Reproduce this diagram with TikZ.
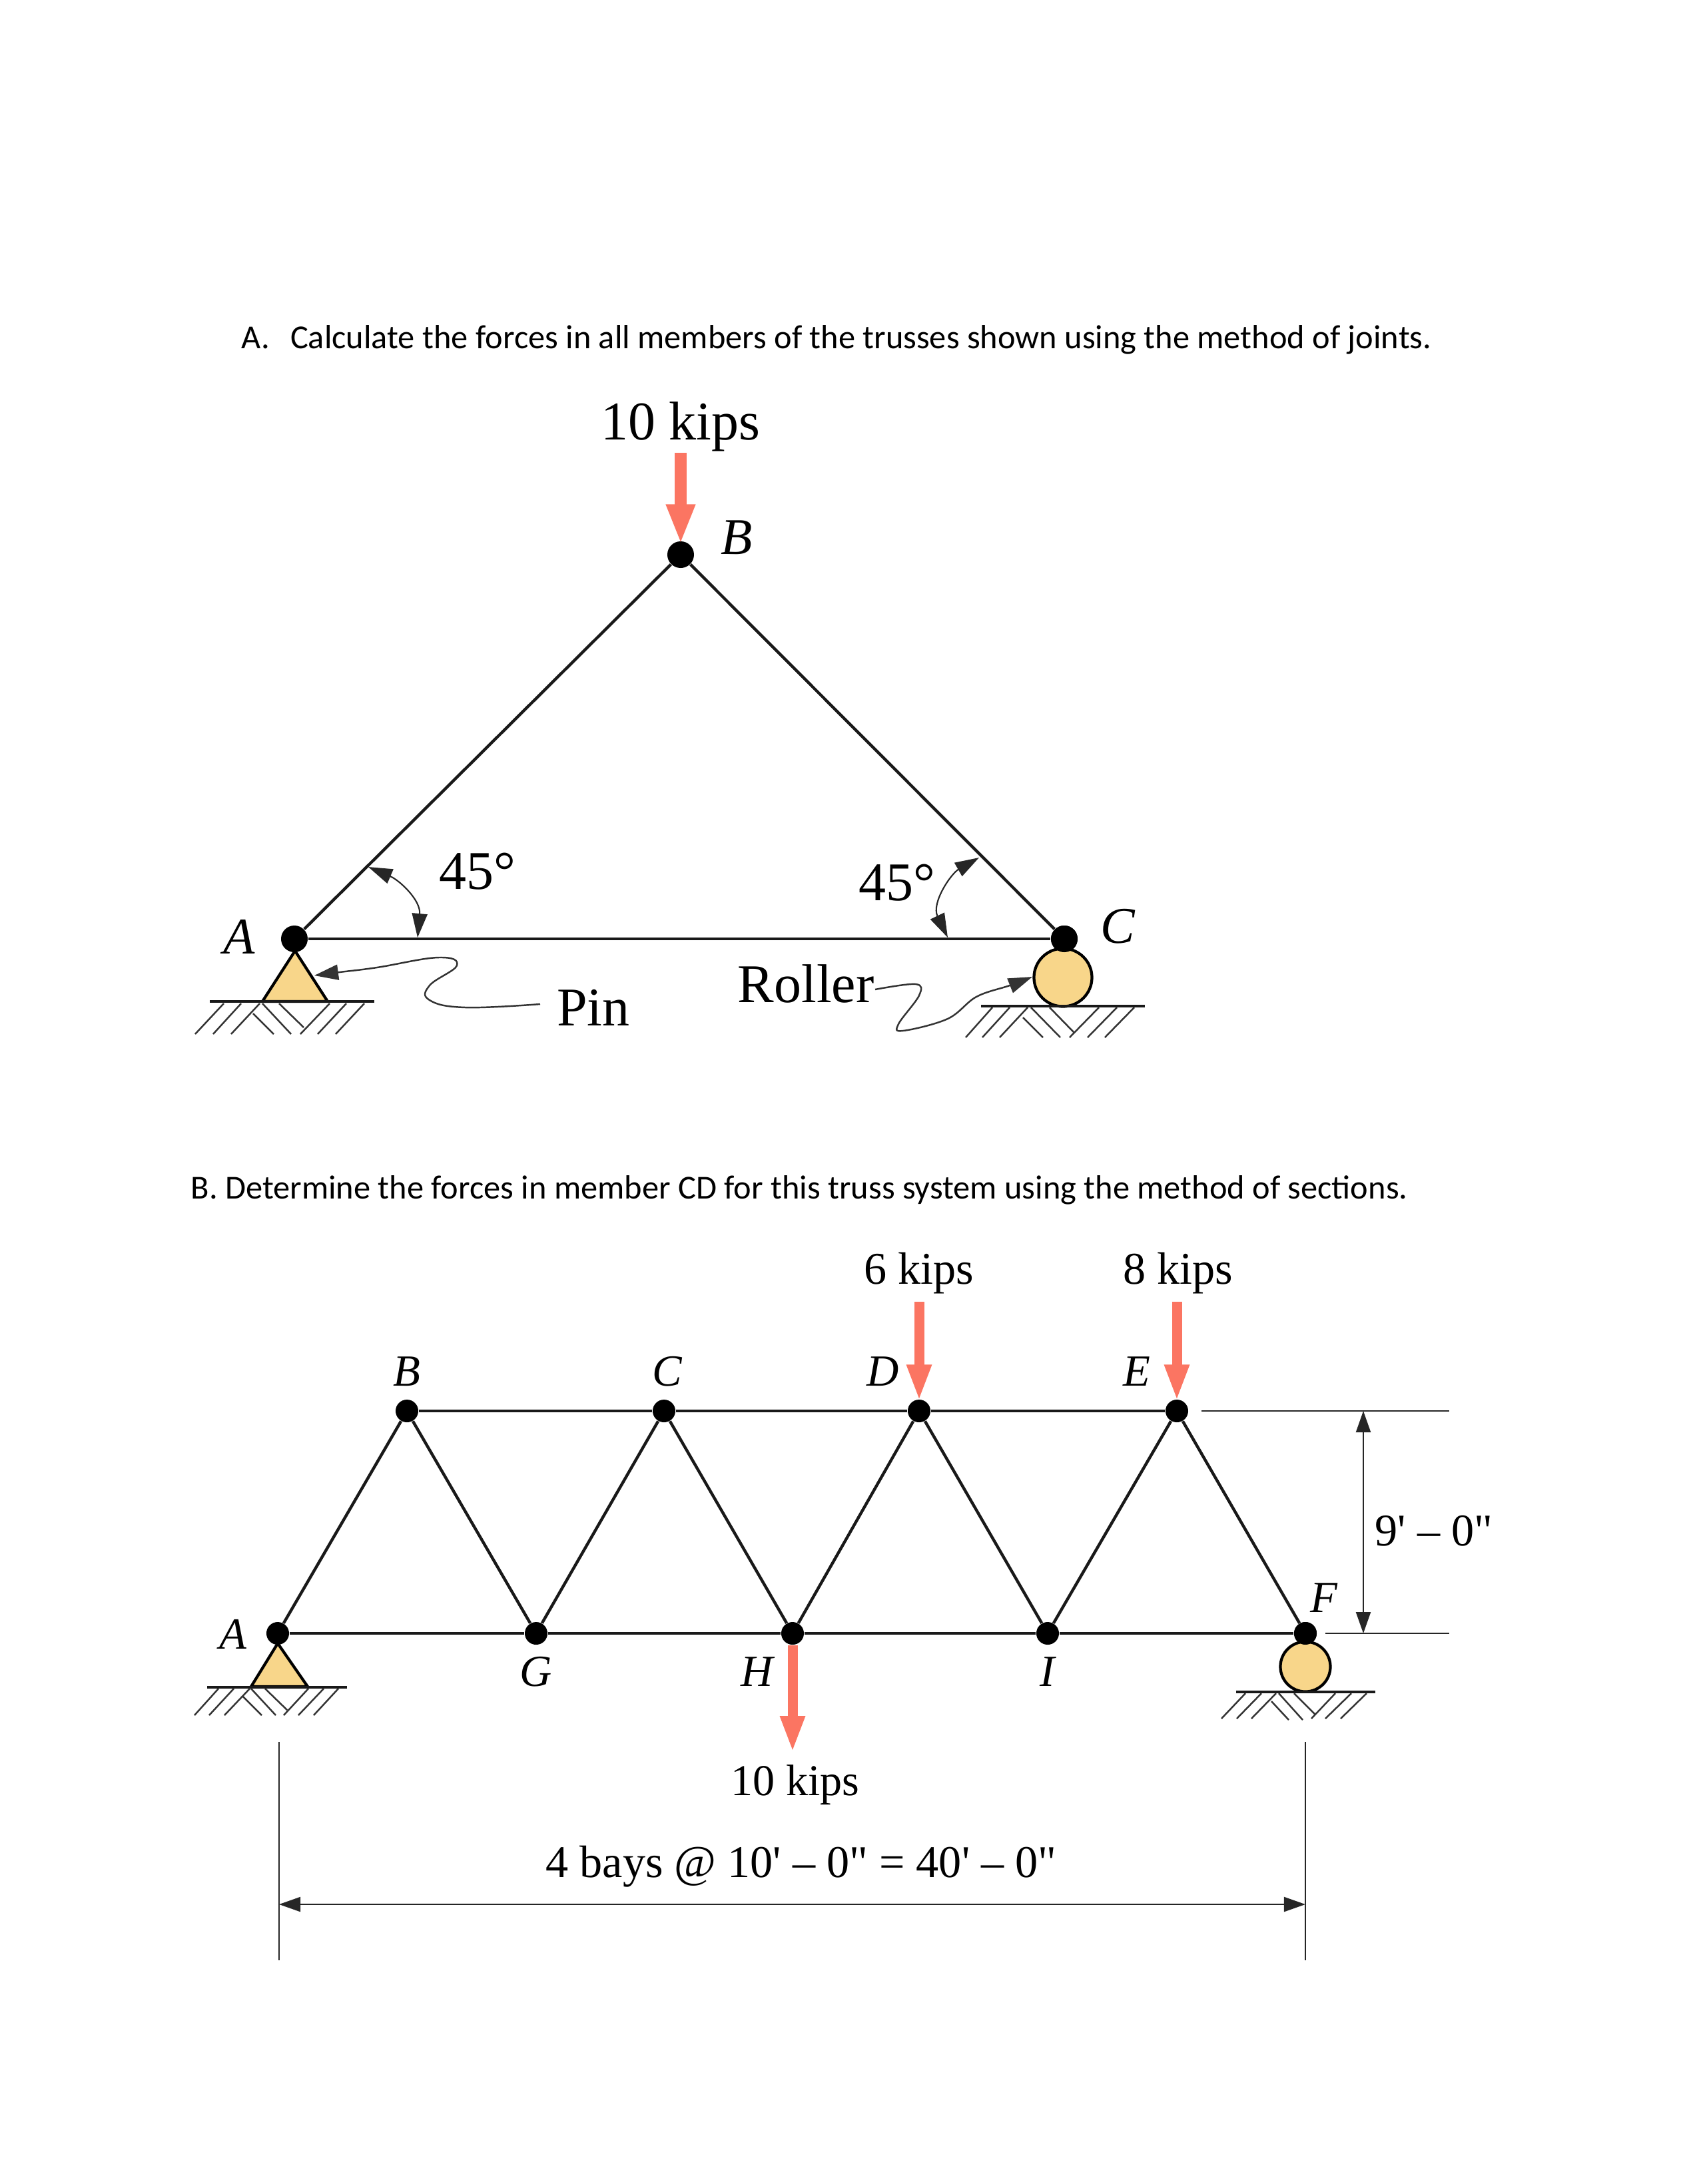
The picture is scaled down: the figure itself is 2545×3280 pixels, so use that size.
\documentclass[tikz,border=0pt]{standalone}
\usepackage{fontspec}
\setmainfont{Liberation Serif}
\newfontfamily\headfont{Carlito}
\newfontfamily\serifplain{Liberation Serif}
\usetikzlibrary{arrows.meta}
\definecolor{forcered}{HTML}{FB7562}
\definecolor{supportfill}{HTML}{F8D68A}
\newcommand{\fsz}[1]{\fontsize{#1}{#1}\selectfont}
\tikzset{
  joint/.style={circle,fill=black,inner sep=0pt,minimum size=#1},
  lbl/.style={anchor=base,inner sep=0pt,font=\serifplain\fsz{#1}},
  ilbl/.style={anchor=base,inner sep=0pt,font=\serifplain\itshape\fsz{#1}},
  head/.style={anchor=base west,inner sep=0pt,font=\headfont\fsz{14.33pt}},
  member/.style={draw=black!90,line width=1.25pt},
  hatchline/.style={draw=black!80,line width=0.7pt},
  groundline/.style={draw=black!90,line width=1.2pt},
  support/.style={draw=black,fill=supportfill,line width=1.2pt},
  force/.style={draw=forcered,line width=0.15cm,-{Triangle[length=0.55cm,width=0.34cm]}},
  forcebig/.style={draw=forcered,line width=0.18cm,-{Triangle[length=0.6cm,width=0.40cm]}},
  dimline/.style={draw=black!85,line width=0.6pt},
  dimarrow/.style={draw=black!85,line width=0.6pt,{Triangle[length=0.32cm,width=0.22cm]}-{Triangle[length=0.32cm,width=0.22cm]}},
  leader/.style={draw=black!80,line width=0.7pt,-{Triangle[length=0.36cm,width=0.23cm]}},
  anglearc/.style={draw=black!85,line width=0.6pt,{Triangle[length=0.36cm,width=0.23cm]}-{Triangle[length=0.36cm,width=0.23cm]}},
}
\begin{document}
\begin{tikzpicture}[x=0.01cm,y=-0.01cm]
\fill[white] (0,0) rectangle (2545,3280);
\useasboundingbox (0,0) rectangle (2545,3280);

% headings
\node[head] (headA) at (362,523) {A.\hspace{0.62em}Calculate the forces in all members of the trusses shown using the method of joints.};
\node[head] (headB) at (286,1800) {B. Determine the forces in member CD for this truss system using the method of sections.};

% ---------- Truss A ----------
\node[joint=0.40cm] (A1) at (442,1410) {};
\node[joint=0.40cm] (B1) at (1022,833) {};
\node[joint=0.40cm] (C1) at (1598,1410) {};
\draw[member] (A1) -- (B1);
\draw[member] (B1) -- (C1);
\draw[member] (A1) -- (C1);

% pin support A
\draw[support] (443,1428) -- (394,1504) -- (492,1504) -- cycle;
\draw[groundline] (315,1504) -- (562,1504);
\draw[hatchline]
  (336,1507) -- (293,1553) (362,1507) -- (320,1553) (390,1507) -- (347,1553)
  (380,1522) -- (411,1553) (394,1507) -- (437,1553) (419,1507) -- (456,1543)
  (495,1507) -- (451,1553) (520,1507) -- (477,1553) (547,1507) -- (504,1553);

% roller support A
\node[circle,support,inner sep=0pt,minimum size=0.87cm] (R1) at (1596,1468) {};
\draw[groundline] (1473,1511) -- (1719,1511);
\draw[hatchline]
  (1490,1513) -- (1450,1558) (1516,1513) -- (1475,1558) (1543,1513) -- (1501,1558)
  (1536,1528) -- (1566,1558) (1548,1513) -- (1592,1558) (1576,1513) -- (1612,1550)
  (1650,1513) -- (1606,1558) (1677,1513) -- (1633,1558) (1703,1513) -- (1659,1558);
\node[joint=0.40cm] at (1598,1410) {};

% force A
\coordinate (f1) at (1022,680);
\draw[forcebig,shorten >=-0.05cm] (f1) -- (B1.north);

% angles
\coordinate (a1s) at (553,1302);
\coordinate (a1e) at (627,1408);
\draw[anglearc] (a1s) .. controls (600,1322) and (632,1352) .. (a1e);
\coordinate (a2s) at (1470,1288);
\coordinate (a2e) at (1423,1408);
\draw[anglearc] (a2s) .. controls (1428,1312) and (1398,1356) .. (a2e);

% labels A
\node[lbl=23.3pt] (t10a) at (1022,660) {10 kips};
\node[ilbl=22pt] (tBa) at (1106,832) {B};
\node[lbl=23.3pt] (t45a) at (717,1335) {45°};
\node[lbl=23.3pt] (t45b) at (1347,1352) {45°};
\node[ilbl=22pt] (tAa) at (359,1432) {A};
\node[ilbl=22pt] (tCa) at (1678,1416) {C};
\node[lbl=23.3pt] (tPin) at (891,1540) {Pin};
\node[lbl=23.3pt] (tRoller) at (1210,1505) {Roller};

% leaders
\coordinate (p0) at (811,1508);
\coordinate (p1) at (472,1465);
\draw[leader] plot[smooth,tension=0.7] coordinates {(p0) (699,1513) (645,1502) (645,1480) (686,1450) (658,1438) (566,1453) (510,1460) (p1)};
\coordinate (r0) at (1314,1486);
\coordinate (r1) at (1550,1467);
\draw[leader] plot[smooth,tension=0.6] coordinates {(r0) (1375,1478) (1380,1495) (1349,1538) (1356,1548) (1423,1530) (1466,1497) (1516,1480) (r1)};

% ---------- Truss B ----------
\node[joint=0.34cm] (A2) at (417,2453) {};
\node[joint=0.34cm] (G) at (805,2453) {};
\node[joint=0.34cm] (H) at (1190,2453) {};
\node[joint=0.34cm] (I) at (1573,2453) {};
\node[joint=0.34cm] (F) at (1960,2453) {};
\node[joint=0.34cm] (B2) at (611,2119) {};
\node[joint=0.34cm] (C2) at (997,2119) {};
\node[joint=0.34cm] (D) at (1380,2119) {};
\node[joint=0.34cm] (E) at (1767,2119) {};
\draw[member] (A2) -- (B2);
\draw[member] (B2) -- (G);
\draw[member] (G) -- (C2);
\draw[member] (C2) -- (H);
\draw[member] (H) -- (D);
\draw[member] (D) -- (I);
\draw[member] (I) -- (E);
\draw[member] (E) -- (F);
\draw[member] (B2) -- (C2);
\draw[member] (C2) -- (D);
\draw[member] (D) -- (E);
\draw[member] (A2) -- (G);
\draw[member] (G) -- (H);
\draw[member] (H) -- (I);
\draw[member] (I) -- (F);

% pin support B
\draw[support] (417,2468) -- (377,2533) -- (462,2533) -- cycle;
\draw[groundline] (311,2534) -- (521,2534);
\draw[hatchline]
  (328,2536) -- (292,2576) (351,2536) -- (314,2576) (375,2536) -- (337,2576)
  (365,2548) -- (393,2576) (377,2536) -- (414,2576) (398,2536) -- (431,2568)
  (463,2536) -- (426,2576) (486,2536) -- (448,2576) (508,2536) -- (471,2576);

% roller support B
\node[circle,support,inner sep=0pt,minimum size=0.75cm] (R2) at (1960,2503) {};
\draw[groundline] (1856,2541) -- (2065,2541);
\draw[hatchline]
  (1870,2543) -- (1834,2581) (1894,2543) -- (1857,2581) (1916,2543) -- (1879,2581)
  (1909,2555) -- (1935,2583) (1920,2543) -- (1956,2583) (1943,2543) -- (1974,2574)
  (2005,2543) -- (1969,2581) (2029,2543) -- (1990,2581) (2052,2543) -- (2013,2581);
\node[joint=0.34cm] at (1960,2453) {};

% forces B
\coordinate (fD) at (1380,1955);
\coordinate (fE) at (1767,1955);
\coordinate (fH) at (1190,2632);
\draw[force,shorten >=-0.03cm] (fD) -- (D.north);
\draw[force,shorten >=-0.03cm] (fE) -- (E.north);
\draw[force] (H.south) -- (fH);

% dimensions
\coordinate (dt1) at (1804,2119);
\coordinate (dt2) at (2176,2119);
\coordinate (db1) at (1990,2453);
\coordinate (db2) at (2176,2453);
\coordinate (dvt) at (2047,2119);
\coordinate (dvb) at (2047,2453);
\draw[dimline] (dt1) -- (dt2);
\draw[dimline] (db1) -- (db2);
\draw[dimarrow] (dvt) -- (dvb);
\coordinate (dl1) at (419,2616);
\coordinate (dl2) at (419,2944);
\coordinate (dr1) at (1960,2616);
\coordinate (dr2) at (1960,2944);
\coordinate (dh1) at (419,2860);
\coordinate (dh2) at (1960,2860);
\draw[dimline] (dl1) -- (dl2);
\draw[dimline] (dr1) -- (dr2);
\draw[dimarrow] (dh1) -- (dh2);

% labels B
\node[lbl=19.4pt] (t6) at (1380,1928) {6 kips};
\node[lbl=19.4pt] (t8) at (1769,1928) {8 kips};
\node[lbl=18.8pt] (t10b) at (1194,2696) {10 kips};
\node[lbl=19.4pt] (tbays) at (1203,2819) {4 bays @ 10' – 0" = 40' – 0"};
\node[lbl=19.4pt] (t9) at (2153,2321) {9' – 0"};
\node[ilbl=19pt] (tB) at (611,2081) {B};
\node[ilbl=19pt] (tC) at (1002,2081) {C};
\node[ilbl=19pt] (tD) at (1326,2081) {D};
\node[ilbl=19pt] (tE) at (1707,2081) {E};
\node[ilbl=19pt] (tF) at (1988,2421) {F};
\node[ilbl=19pt] (tA) at (350,2476) {A};
\node[ilbl=19pt] (tG) at (805,2532) {G};
\node[ilbl=19pt] (tH) at (1137,2532) {H};
\node[ilbl=19pt] (tI) at (1573,2532) {I};
\end{tikzpicture}
\end{document}
